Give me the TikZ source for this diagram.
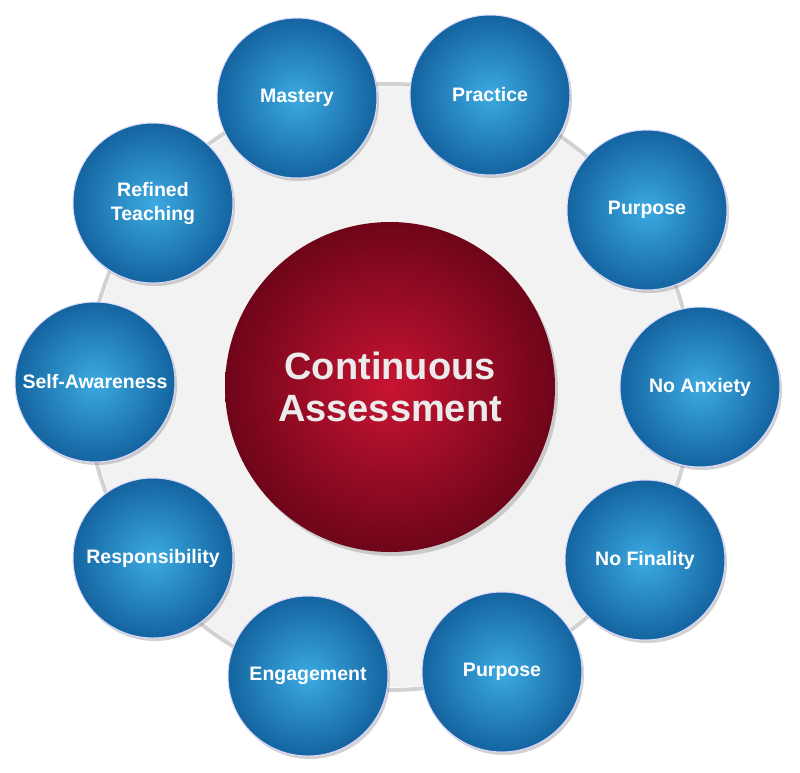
\documentclass[tikz,border=0pt]{standalone}
\usepackage{fontspec}
\setmainfont{Liberation Sans}
\usetikzlibrary{shadows}
\begin{document}
\begin{tikzpicture}[x=1pt,y=-1pt,
  outer/.style={circle,minimum size=160pt,inner sep=0pt,shading=radial,inner color={rgb,255:red,60;green,170;blue,225},outer color={rgb,255:red,20;green,100;blue,160},draw=white!85!blue,line width=1pt,drop shadow={opacity=0.35,shadow xshift=2pt,shadow yshift=-3pt},text=white,font=\bfseries\fontsize{19.5}{24}\selectfont,align=center},
  core/.style={circle,minimum size=330pt,inner sep=0pt,shading=radial,inner color={rgb,255:red,200;green,20;blue,50},outer color={rgb,255:red,110;green,5;blue,25},drop shadow={opacity=0.35,shadow xshift=3pt,shadow yshift=-4pt},text=white!92!black,font=\bfseries\fontsize{38}{42}\selectfont,align=center}]
\useasboundingbox (0,0) rectangle (800,772);
\fill[white] (0,0) rectangle (800,772);
\coordinate (c) at (390,387);
\fill[gray!10] (c) circle (300);
\draw[gray!35,line width=4pt] (c) circle (303);
\node[core] (center) at (c) {Continuous\\Assessment};
\node[outer] (m) at (297,98) {Mastery};
\node[outer] (p1) at (490,95) {Practice};
\node[outer] (pu1) at (647,210) {Purpose};
\node[outer] (na) at (700,387) {No Anxiety};
\node[outer] (nf) at (645,560) {No Finality};
\node[outer] (pu2) at (502,672) {Purpose};
\node[outer] (en) at (308,676) {Engagement};
\node[outer] (re) at (153,558) {Responsibility};
\node[outer] (sa) at (95,382) {Self-Awareness};
\node[outer] (rt) at (153,203) {Refined\\Teaching};
\end{tikzpicture}
\end{document}
